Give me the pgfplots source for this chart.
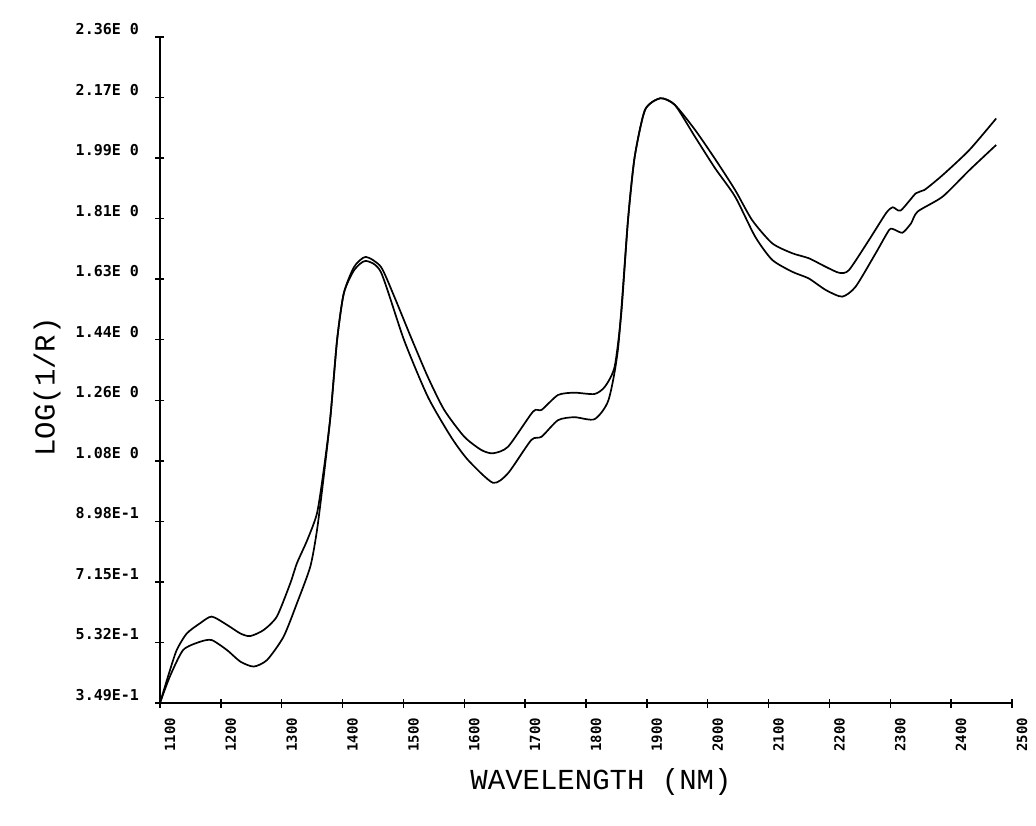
\documentclass[border=0pt]{standalone}
\usepackage{fontspec}
\usepackage{pgfplots}
\pgfplotsset{compat=1.18}
\newfontfamily\tickfont{DejaVu Sans Mono}
\newfontfamily\labfont{Liberation Mono}
\begin{document}
\begin{tikzpicture}[x=1pt,y=1pt]
\path[use as bounding box] (-160pt,-122pt) rectangle (876pt,703pt);
\begin{axis}[
  at={(0pt,0pt)}, anchor=origin,
  scale only axis, width=852pt, height=666pt,
  xmin=1100, xmax=2500, ymin=0.349, ymax=2.36,
  axis x line*=bottom, axis y line*=left,
  axis line style={line width=1.6pt, black},
  xtick={1100,1200,1300,1400,1500,1600,1700,1800,1900,2000,2100,2200,2300,2400,2500},
  xticklabels={1100,1200,1300,1400,1500,1600,1700,1800,1900,2000,2100,2200,2300,2400,2500},
  ytick={0.349,0.53182,0.71464,0.89745,1.08027,1.26309,1.44591,1.62873,1.81155,1.99436,2.17718,2.36},
  yticklabels={3.49E-1,5.32E-1,7.15E-1,8.98E-1,1.08E 0,1.26E 0,1.44E 0,1.63E 0,1.81E 0,1.99E 0,2.17E 0,2.36E 0},
  tick align=center, major tick length=9pt,
  tick style={line width=1.4pt, black},
  xticklabel style={font=\tickfont\bfseries\fontsize{14}{14}\selectfont, xshift=10pt, yshift=-7pt, rotate=90, anchor=east},
  yticklabel style={font=\tickfont\bfseries\fontsize{15}{15}\selectfont, anchor=east, xshift=-13pt, yshift=8pt},
  xlabel={WAVELENGTH (NM)},
  ylabel={LOG(1/R)},
  xlabel style={at={(axis description cs:0.5176,-0.1186)}, anchor=center, font=\labfont\fontsize{29}{29}\selectfont},
  ylabel style={at={(axis description cs:-0.1326,0.4745)}, anchor=center, rotate=0, font=\labfont\fontsize{29}{29}\selectfont},
  clip=false,
]
\addplot[black, line width=1.7pt, smooth, tension=0.4] coordinates {
(1100,0.349) (1115,0.440) (1127.5,0.509) (1144,0.559) (1166,0.590) (1185,0.610) (1210,0.585) (1232,0.559) (1248,0.551)
(1270,0.569) (1292,0.610) (1314,0.710) (1325,0.771) (1342,0.841) (1358,0.922) (1369,1.052) (1380,1.213)
(1391,1.445) (1402,1.586) (1419,1.666) (1438,1.696) (1463,1.666) (1485,1.576) (1512,1.455) (1540,1.334)
(1567,1.234) (1600,1.153) (1628,1.113) (1647,1.103) (1672,1.123) (1713,1.229) (1727,1.234) (1754,1.279)
(1781,1.286) (1814,1.282) (1831,1.304) (1847,1.364) (1858,1.526) (1869,1.807) (1880,1.998) (1897,2.140)
(1922,2.175) (1946,2.155) (1979,2.080) (2012,1.992) (2045,1.898) (2073,1.807) (2106,1.737) (2139,1.707)
(2166,1.692) (2194,1.666) (2216,1.648) (2232,1.656) (2265,1.747) (2293,1.828) (2304,1.846) (2317,1.836)
(2342,1.888) (2356,1.898) (2386,1.943) (2430,2.019) (2474,2.114)
};
\addplot[black, line width=1.7pt, smooth, tension=0.4] coordinates {
(1100,0.349) (1116,0.428) (1138,0.509) (1166,0.534) (1185,0.539) (1210,0.509) (1232,0.474) (1254,0.459)
(1276,0.479) (1303,0.549) (1325,0.650) (1347,0.761) (1358,0.871) (1369,1.032) (1380,1.213) (1391,1.445)
(1402,1.586) (1419,1.656) (1438,1.684) (1463,1.650) (1501,1.445) (1540,1.274) (1578,1.153) (1606,1.083)
(1647,1.014) (1672,1.043) (1710,1.143) (1727,1.153) (1754,1.203) (1781,1.212) (1814,1.206) (1837,1.264)
(1853,1.425) (1869,1.807) (1880,1.998) (1897,2.140) (1922,2.175) (1946,2.155) (1979,2.059) (2012,1.964)
(2045,1.878) (2078,1.757) (2106,1.687) (2139,1.651) (2166,1.631) (2194,1.596) (2221,1.576) (2243,1.606)
(2276,1.707) (2298,1.777) (2306,1.779) (2320,1.769) (2334,1.797) (2345,1.833) (2386,1.878) (2430,1.958)
(2474,2.034)
};
\end{axis}
\end{tikzpicture}
\end{document}
